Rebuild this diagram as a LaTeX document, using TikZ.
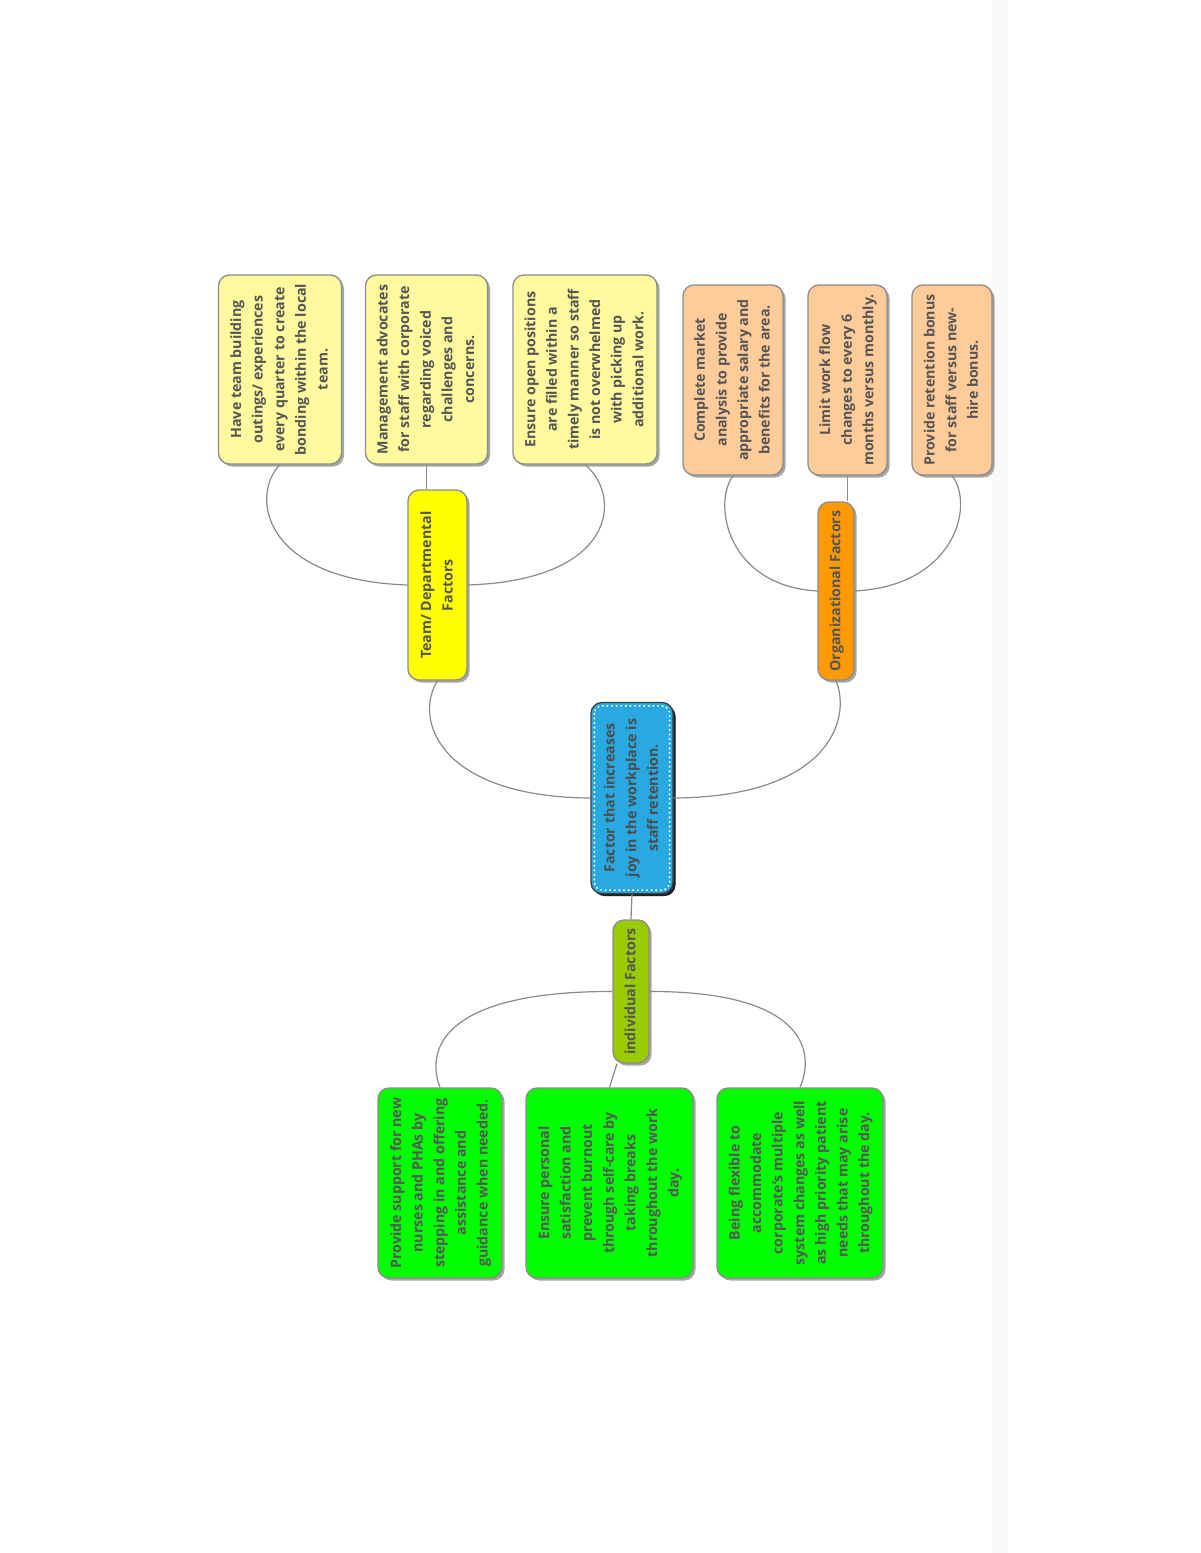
\documentclass[tikz,border=0pt]{standalone}
\usepackage{fontspec}
\setmainfont{Open Sans}
\usepackage{graphicx}
\usetikzlibrary{shadows}
\definecolor{txt}{HTML}{555555}
\definecolor{boxgray}{HTML}{8C8C8C}
\definecolor{linkgray}{HTML}{8A8A8A}
\definecolor{lyellow}{HTML}{FFFA9E}
\definecolor{lorange}{HTML}{FFCC99}
\definecolor{myellow}{HTML}{FFFF00}
\definecolor{morange}{HTML}{FF9900}
\definecolor{mgreen}{HTML}{99CC00}
\definecolor{lgreen}{HTML}{00FF00}
\definecolor{cblue}{HTML}{29A9E1}
\definecolor{edgeband}{HTML}{FAFAFA}
\newcommand\rtxt[1]{\rotatebox{90}{\begin{tabular}{@{}c@{}}#1\end{tabular}}}
\tikzset{
  box/.style={draw=boxgray, line width=1.3pt, rounded corners=11pt, inner sep=0pt,
    text=txt, font=\bfseries\fontsize{14.2}{21.6}\selectfont,
    drop shadow={shadow xshift=2.5pt, shadow yshift=-2.5pt, fill=black, opacity=0.35}},
  link/.style={draw=linkgray, line width=1.2pt},
}
\begin{document}
\begin{tikzpicture}[x=1pt,y=-1pt]
\fill[white] (0,0) rectangle (1200,1553);
\useasboundingbox (0,0) rectangle (1200,1553);
\fill[edgeband] (992,0) rectangle (1008,1553);

% central
\node[box, fill=cblue, draw=black!75, text=black!70, drop shadow={shadow xshift=2.5pt, shadow yshift=-2.5pt, fill=black, opacity=0.8},
  minimum width=82pt, minimum height=191pt] (c) at (632,798)
  {\rtxt{Factor that increases\\joy in the workplace is\\staff retention.}};
\draw[white, line width=2.2pt, dash pattern=on 0pt off 4.6pt, line cap=round, rounded corners=8pt]
  ([shift={(4,4)}]c.north west) rectangle ([shift={(-4,-4)}]c.south east);

% main branches
\node[box, fill=myellow, minimum width=59pt, minimum height=190pt] (team) at (437.5,585)
  {\rtxt{Team/ Departmental\\Factors}};
\node[box, fill=morange, minimum width=36pt, minimum height=178pt] (org) at (836,591)
  {\rtxt{Organizational Factors}};
\node[box, fill=mgreen, minimum width=36pt, minimum height=143pt] (ind) at (631,991.5)
  {\rtxt{individual Factors}};

% yellow leaves
\node[box, fill=lyellow, minimum width=123pt, minimum height=189pt] (y1) at (280,369.5)
  {\rtxt{Have team building\\outings/ experiences\\every quarter to create\\bonding within the local\\team.}};
\node[box, fill=lyellow, minimum width=122pt, minimum height=189pt] (y2) at (426.5,369.5)
  {\rtxt{Management advocates\\for staff with corporate\\regarding voiced\\challenges and\\concerns.}};
\node[box, fill=lyellow, minimum width=144pt, minimum height=189pt] (y3) at (585,369.5)
  {\rtxt{Ensure open positions\\are filled within a\\timely manner so staff\\is not overwhelmed\\with picking up\\additional work.}};

% orange leaves
\node[box, fill=lorange, minimum width=100pt, minimum height=190pt] (o1) at (733,380)
  {\rtxt{Complete market\\analysis to provide\\appropriate salary and\\benefits for the area.}};
\node[box, fill=lorange, minimum width=79pt, minimum height=190pt] (o2) at (847.5,380)
  {\rtxt{Limit work flow\\changes to every 6\\months versus monthly.}};
\node[box, fill=lorange, minimum width=80pt, minimum height=190pt] (o3) at (952,380)
  {\rtxt{Provide retention bonus\\for staff versus new-\\hire bonus.}};

% green leaves
\node[box, fill=lgreen, minimum width=124pt, minimum height=190pt] (g1) at (440,1183)
  {\rtxt{Provide support for new\\nurses and PHAs by\\stepping in and offering\\assistance and\\guidance when needed.}};
\node[box, fill=lgreen, minimum width=167pt, minimum height=190pt] (g2) at (609.5,1183)
  {\rtxt{Ensure personal\\satisfaction and\\prevent burnout\\through self-care by\\taking breaks\\throughout the work\\day.}};
\node[box, fill=lgreen, minimum width=166pt, minimum height=190pt] (g3) at (800,1183)
  {\rtxt{Being flexible to\\accommodate\\corporate's multiple\\system changes as well\\as high priority patient\\needs that may arise\\throughout the day.}};

% connectors
\draw[link] (c.west) .. controls (440,797) and (413,720) .. (team.south);
\draw[link] (c.east) .. controls (828,797) and (852,720) .. (org.south);
\draw[link] (c.south) -- (ind.north);

\draw[link] (team.west) .. controls (262,580) and (250,495) .. (y1.south);
\draw[link] (team.north -| y2.south) -- (y2.south);
\draw[link] (team.east) .. controls (618,580) and (622,495) .. (y3.south);

\draw[link] (org.west) .. controls (728,586) and (712,505) .. (o1.south);
\draw[link] (org.north -| o2.south) -- (o2.south);
\draw[link] (org.east) .. controls (955,586) and (975,505) .. (o3.south);

\draw[link] (ind.west) .. controls (450,991) and (424,1045) .. (g1.north);
\draw[link] ([xshift=-14pt]ind.south) -- (g2.north);
\draw[link] (ind.east) .. controls (795,991) and (818,1045) .. (g3.north);
\end{tikzpicture}
\end{document}
